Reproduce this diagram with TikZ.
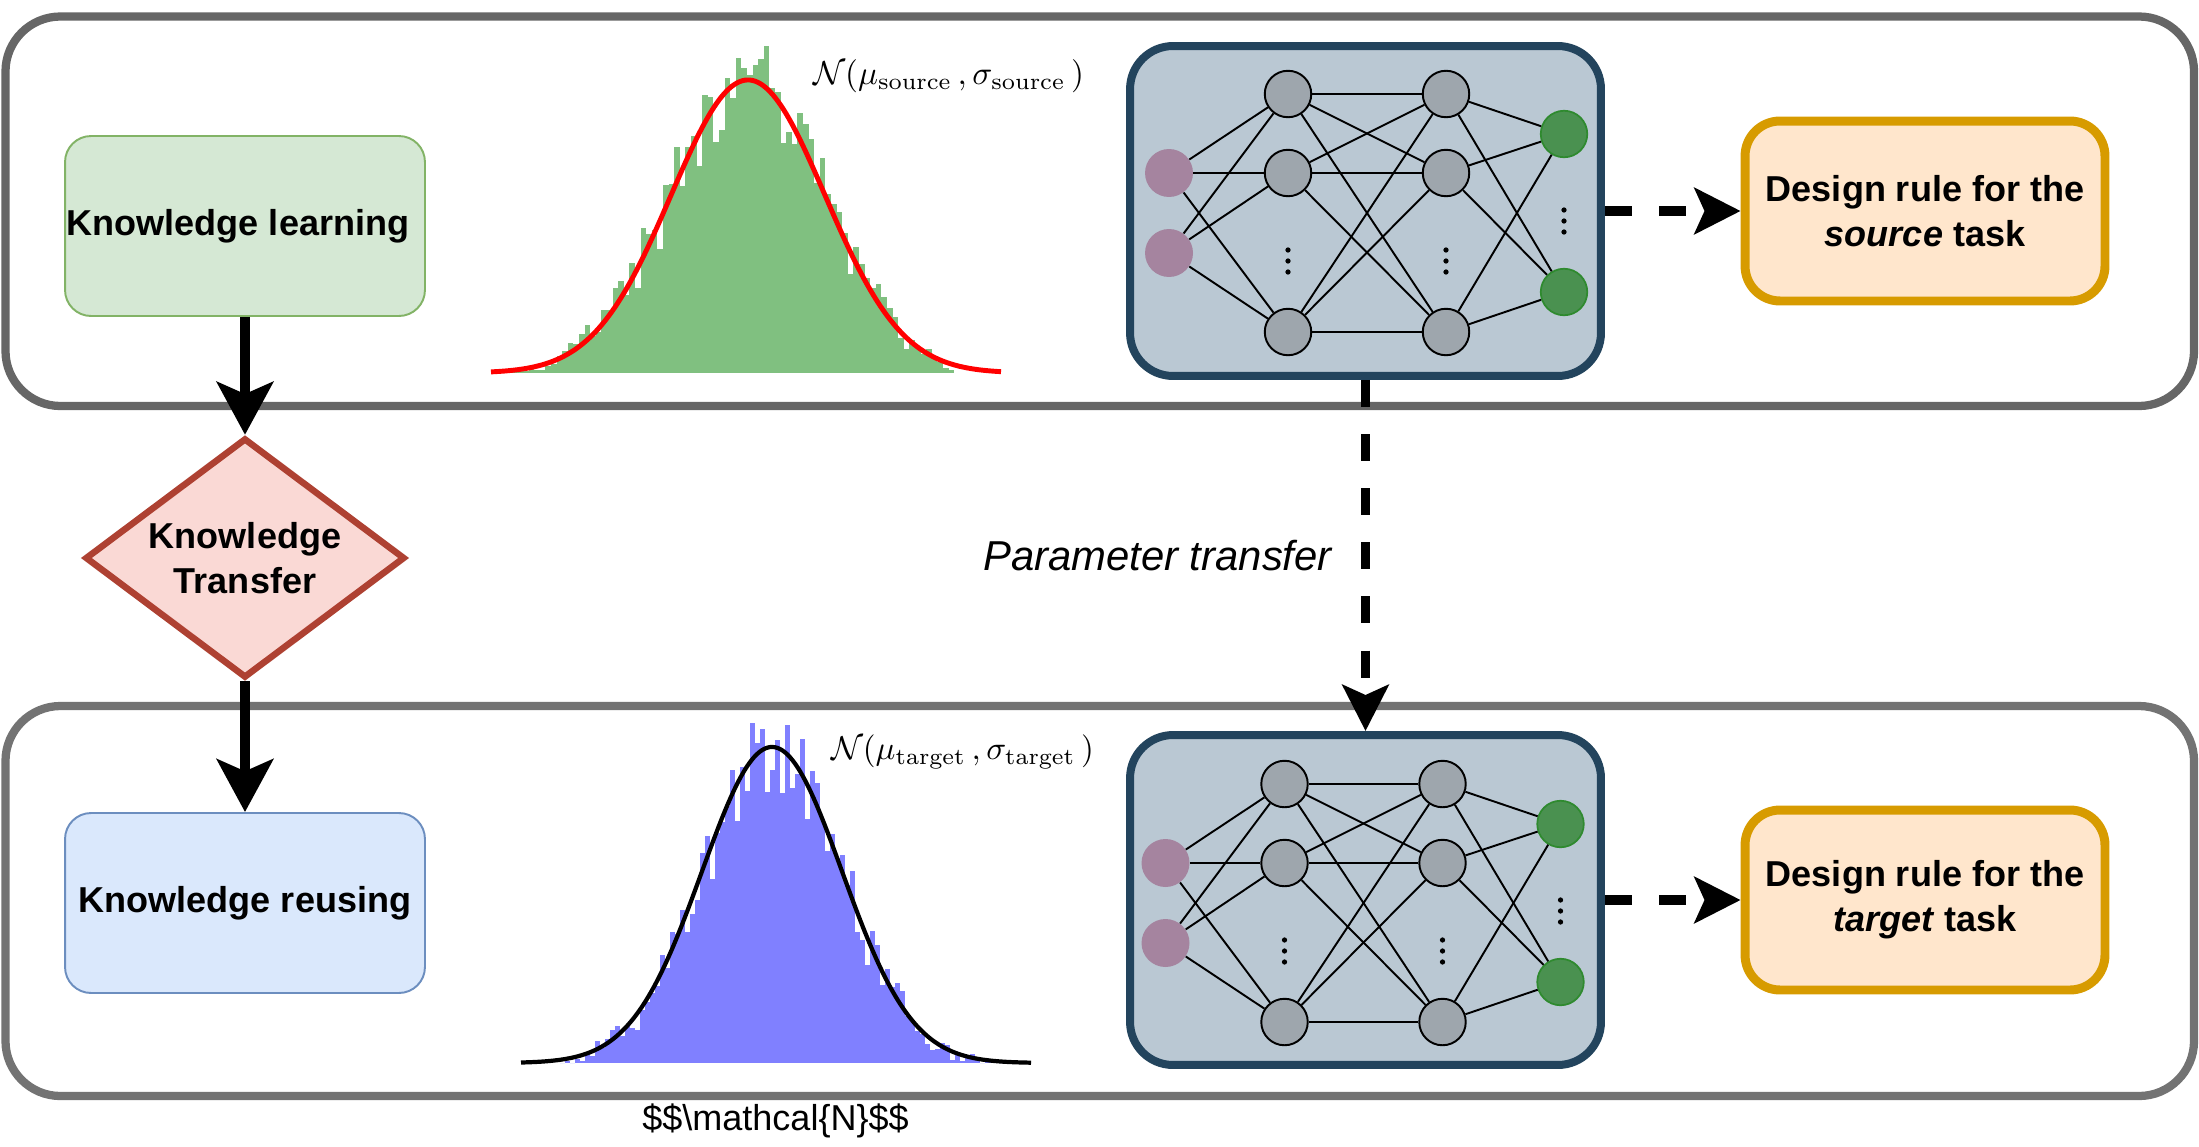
\documentclass[tikz,border=0pt]{standalone}
\usepackage[no-math]{fontspec}
\setmainfont{Liberation Sans}
\usetikzlibrary{shapes.geometric,arrows.meta}
\definecolor{contA}{HTML}{666666}
\definecolor{contB}{HTML}{737373}
\definecolor{klFill}{HTML}{D5E8D4}
\definecolor{klLine}{HTML}{82B366}
\definecolor{krFill}{HTML}{DAE8FC}
\definecolor{krLine}{HTML}{6C8EBF}
\definecolor{ktFill}{HTML}{FAD9D5}
\definecolor{ktLine}{HTML}{AE4132}
\definecolor{nnFill}{HTML}{BAC8D3}
\definecolor{nnLine}{HTML}{23445D}
\definecolor{dsFill}{HTML}{FFE6CC}
\definecolor{dsLine}{HTML}{D79B00}
\definecolor{inpFill}{HTML}{A5849F}
\definecolor{hidFill}{HTML}{9EA6AD}
\definecolor{outFill}{HTML}{4A9150}
\definecolor{outLine}{HTML}{2F8A2F}
\definecolor{histG}{HTML}{80C080}
\definecolor{histB}{HTML}{8080FF}

\newcommand\nnet[1]{%
  \node[inpn] (#1i1) at (1169,173) {};
  \node[inpn] (#1i2) at (1169,253) {};
  \node[hidn] (#1a1) at (1288,94) {};
  \node[hidn] (#1a2) at (1288,173) {};
  \node[hidn] (#1a3) at (1288,332) {};
  \node[hidn] (#1b1) at (1446,94) {};
  \node[hidn] (#1b2) at (1446,173) {};
  \node[hidn] (#1b3) at (1446,332) {};
  \node[outn] (#1o1) at (1564,134) {};
  \node[outn] (#1o2) at (1564,292) {};
  \foreach \u in {i1,i2}{\foreach \v in {a1,a2,a3}{\draw[edge] (#1\u) -- (#1\v);}}
  \foreach \u in {a1,a2,a3}{\foreach \v in {b1,b2,b3}{\draw[edge] (#1\u) -- (#1\v);}}
  \foreach \u in {b1,b2,b3}{\foreach \v in {o1,o2}{\draw[edge] (#1\u) -- (#1\v);}}
  \foreach \yy in {250,261,272}{\fill (1288,\yy) circle[radius=1.5pt]; \fill (1446,\yy) circle[radius=1.5pt];}
  \foreach \yy in {210,221,232}{\fill (1564,\yy) circle[radius=1.5pt];}
}

\begin{document}
\begin{tikzpicture}[x=0.02cm,y=-0.02cm,
  container/.style={line width=4.7pt, rounded corners=1.1cm},
  bfont/.style={font=\fontsize{20.5}{25.6}\selectfont\bfseries},
  kbox/.style={rectangle, rounded corners=0.52cm, minimum width=7.2cm, minimum height=3.6cm, line width=1.1pt, inner sep=0pt, align=center, bfont},
  diam/.style={diamond, aspect=1.333, minimum width=6.4cm, minimum height=4.8cm, fill=ktFill, draw=ktLine, line width=3.7pt, inner sep=0pt, align=center, bfont},
  nnbox/.style={rectangle, rounded corners=0.86cm, minimum width=9.42cm, minimum height=6.6cm, fill=nnFill, draw=nnLine, line width=4.55pt},
  dsbox/.style={rectangle, rounded corners=0.7cm, minimum width=7.2cm, minimum height=3.6cm, fill=dsFill, draw=dsLine, line width=5.1pt, inner sep=0pt, align=center, bfont},
  inpn/.style={circle, fill=inpFill, minimum size=0.96cm, inner sep=0pt},
  hidn/.style={circle, fill=hidFill, draw=black, line width=1.1pt, minimum size=0.93cm, inner sep=0pt},
  outn/.style={circle, fill=outFill, draw=outLine, line width=1pt, minimum size=0.93cm, inner sep=0pt},
  edge/.style={black, line width=1.1pt},
  solidarrow/.style={line width=6pt, -{Stealth[length=30pt, width=31.9pt, inset=6.8pt]}},
  dasharrow/.style={line width=5.4pt, dash pattern=on 15.4pt off 15.4pt, -{Stealth[length=26.2pt, width=26.2pt, inset=5.7pt]}}
]
\useasboundingbox (0,0) rectangle (2199,1146);

% containers
\draw[container, draw=contA] (5.5,16.5) rectangle (2194,406);
\draw[container, draw=contB] (5.5,706) rectangle (2194,1096);

% top histogram
\pgfmathsetseed{11}
\foreach \i in {0,...,81}{
  \pgfmathsetmacro\xl{495+5.6*\i}
  \pgfmathsetmacro\g{293*exp(-0.5*((\xl+2.8-748)/77)^2)}
  \pgfmathsetmacro\h{max(0,\g+0.16*17.12*sqrt(\g)*rand)}
  \fill[histG] (\xl,373) rectangle ({\xl+5.6},{373-\h});
}
\draw[red, line width=2.8pt, line join=round] plot[domain=491:1001, samples=200] (\x,{373-293*exp(-0.5*((\x-748)/77)^2)});
\node (lblT) at (948.5,76) {\resizebox{5.42cm}{!}{$\mathcal{N}(\mu_{\mathrm{source}}\,,\sigma_{\mathrm{source}}\,)$}};

% bottom histogram
\pgfmathsetseed{23}
\foreach \i in {0,...,89}{
  \pgfmathsetmacro\xl{560+5*\i}
  \pgfmathsetmacro\g{316*exp(-0.5*((\xl+2.5-772)/70)^2)}
  \pgfmathsetmacro\h{max(0,\g+0.14*17.78*sqrt(\g)*rand)}
  \fill[histB] (\xl,1063) rectangle ({\xl+5},{1063-\h});
}
\draw[black, line width=2.4pt, line join=round] plot[domain=521:1031, samples=200] (\x,{1063-316*exp(-0.5*((\x-772)/70)^2)});
\node (lblB) at (962.5,752) {\resizebox{5.26cm}{!}{$\mathcal{N}(\mu_{\mathrm{target}}\,,\sigma_{\mathrm{target}}\,)$}};
\node[font=\fontsize{20.5}{24}\selectfont, anchor=base] (ncal) at (775.5,1130) {\$\$\textbackslash mathcal\{N\}\$\$};

% left column
\node[kbox, fill=klFill, draw=klLine] (kl) at (245,226) {Knowledge learning\hspace*{0.28cm}};
\node[diam] (kt) at (245,558) {Knowledge\\Transfer};
\node[kbox, fill=krFill, draw=krLine] (kr) at (245,903) {Knowledge reusing};

% networks
\node[nnbox] (nnboxT) at (1365.5,211) {};
\nnet{T}
\node[nnbox] (nnboxB) at (1365.5,900) {};
\begin{scope}[shift={(-3.5,690)}]
\nnet{B}
\end{scope}

% design rule boxes
\node[dsbox] (dsT) at (1925,211) {Design rule for the\\\textit{source} task};
\node[dsbox] (dsB) at (1925,900) {Design rule for the\\\textit{target} task};

% parameter transfer label
\node[font=\fontsize{23.8}{28}\selectfont\itshape, anchor=base] (ptlab) at (1157.5,570) {Parameter transfer};

% connectors
\draw[solidarrow] (kl.south) -- (kt.north);
\draw[solidarrow] (kt.south) -- (kr.north);
\draw[dasharrow] (nnboxT.east) -- (dsT.west);
\draw[dasharrow] (nnboxB.east) -- (dsB.west);
\draw[dasharrow] (nnboxT.south) -- (nnboxB.north);
\end{tikzpicture}
\end{document}
